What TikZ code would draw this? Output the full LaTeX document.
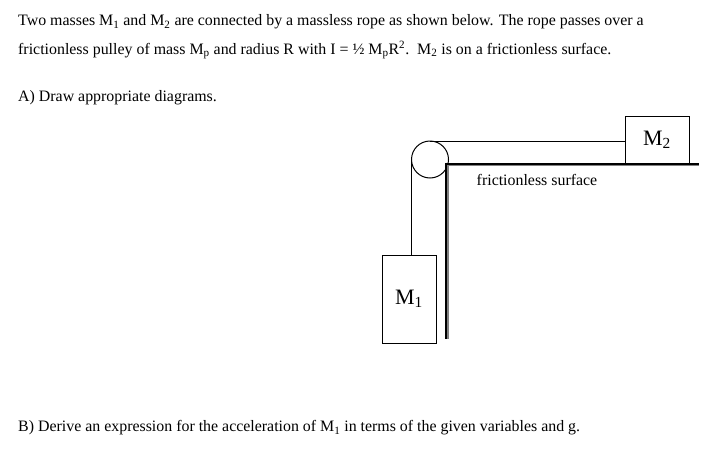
\documentclass[tikz,border=0pt]{standalone}
\usepackage{fontspec}
\setmainfont{Liberation Serif}
\begin{document}
\begin{tikzpicture}[x=1pt,y=-1pt,
  txt/.style={anchor=west,inner sep=0,font=\fontsize{15.9}{18}\selectfont},
  mass/.style={draw,line width=1pt,inner sep=0,font=\fontsize{22}{24}\selectfont},
  rope/.style={line width=0.9pt},
  ground/.style={line width=1.5pt}]
\useasboundingbox (0,0) rectangle (715,461);
\node[txt] (l1) at (18,22) {Two masses M\textsubscript{1} and M\textsubscript{2} are connected by a massless rope as shown below. The rope passes over a};
\node[txt] (l2) at (18,50) {frictionless pulley of mass M\textsubscript{p} and radius R with I = ½ M\textsubscript{p}R\textsuperscript{2}.\enspace M\textsubscript{2} is on a frictionless surface.};
\node[txt] (l3) at (18,98) {A) Draw appropriate diagrams.};
\node[txt] (l4) at (18,428) {B) Derive an expression for the acceleration of M\textsubscript{1} in terms of the given variables and g.};
\node[mass,minimum width=54,minimum height=88] (m1) at (409,299) {M\textsubscript{1}};
\node[mass,minimum width=64,minimum height=47] (m2) at (657,139.5) {M\textsubscript{2}};
\node[draw,circle,line width=1pt,minimum size=37,inner sep=0] (p) at (430,159.5) {};
\coordinate (pt) at (430,141);
\coordinate (pl) at (411.5,159.5);
\draw[rope] (pt) -- (m2.west |- pt);
\draw[rope] (pl) -- (pl |- m1.north);
\draw[ground,black!50] (447,165.5) -- (699,165.5);
\draw[ground,black!50] (448,165) -- (448,339);
\draw[line width=2pt] (446,163.5) -- (699,163.5);
\draw[line width=2pt] (445.5,162.5) -- (445.5,339);
\node[font=\fontsize{15.9}{18}\selectfont,inner sep=0] (fs) at (537,180) {frictionless surface};
\end{tikzpicture}
\end{document}
